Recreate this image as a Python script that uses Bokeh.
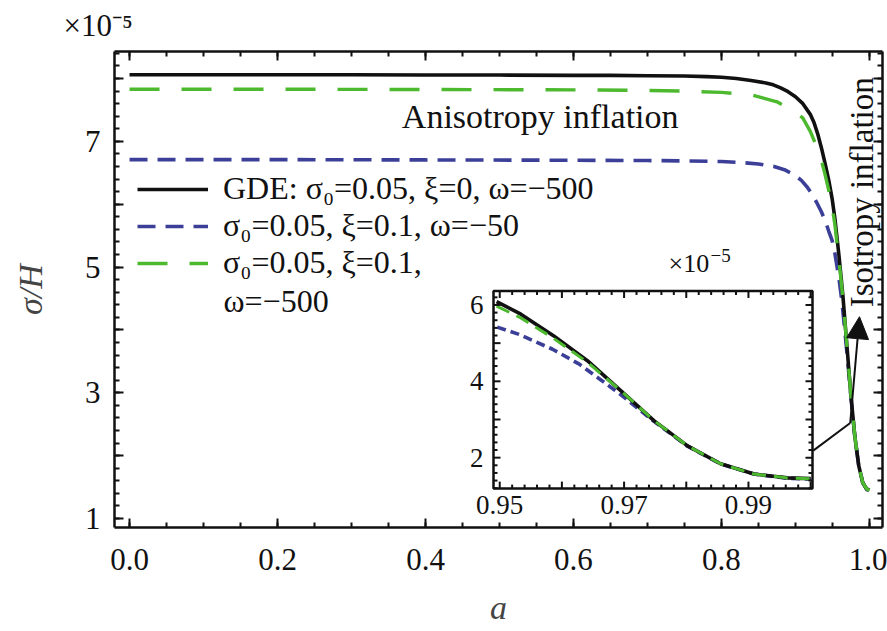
from bokeh.plotting import figure
from bokeh.models import (Range1d, LinearAxis, FixedTicker, PrintfTickFormatter,
                          Legend, LegendItem, Label, Arrow, NormalHead,
                          CustomLabelingPolicy, BoxAnnotation)
from bokeh.core.properties import value
from bokeh.embed import file_html
from bokeh.resources import INLINE

# sigma/H (in units of 1e-5) against scale factor a
a_gde = [0.0, 0.1, 0.2, 0.3, 0.4, 0.5, 0.6, 0.65, 0.7, 0.75, 0.78, 0.8, 0.82, 0.84,
         0.86, 0.87, 0.88, 0.89, 0.90, 0.91, 0.92, 0.925, 0.93, 0.935, 0.94, 0.945,
         0.9495, 0.9534, 0.9587, 0.9641, 0.9695, 0.9748, 0.9802, 0.9855, 0.9909,
         0.9963, 1.0]
s_gde = [8.06, 8.06, 8.06, 8.06, 8.055, 8.055, 8.05, 8.05, 8.045, 8.04, 8.03, 8.02,
         8.00, 7.97, 7.93, 7.90, 7.85, 7.79, 7.71, 7.60, 7.43, 7.30, 7.12, 6.90,
         6.65, 6.38, 6.09, 5.76, 5.19, 4.54, 3.75, 2.97, 2.31, 1.84, 1.57, 1.47, 1.45]

a_w50 = [0.0, 0.2, 0.4, 0.6, 0.7, 0.75, 0.8, 0.83, 0.85, 0.871, 0.885, 0.898, 0.908,
         0.916, 0.923, 0.929, 0.935, 0.941, 0.945, 0.9496, 0.9531, 0.9585, 0.9628,
         0.9665, 0.9697, 0.9748, 0.9802, 0.9855, 0.9909, 0.9963, 1.0]
s_w50 = [6.71, 6.71, 6.705, 6.70, 6.695, 6.69, 6.68, 6.66, 6.64, 6.60, 6.55, 6.47,
         6.38, 6.27, 6.15, 6.02, 5.88, 5.71, 5.57, 5.42, 5.23, 4.84, 4.45, 4.01,
         3.62, 2.95, 2.30, 1.84, 1.57, 1.46, 1.44]

a_w500 = [0.0, 0.2, 0.4, 0.6, 0.7, 0.75, 0.8, 0.84, 0.875, 0.9, 0.91, 0.92, 0.93,
          0.935, 0.94, 0.945, 0.9495, 0.9534, 0.9587, 0.9641, 0.9695, 0.9748, 0.9802,
          0.9855, 0.9909, 0.9963, 1.0]
s_w500 = [7.83, 7.83, 7.825, 7.82, 7.81, 7.80, 7.78, 7.74, 7.63, 7.47, 7.37, 7.16,
          6.88, 6.70, 6.47, 6.22, 5.97, 5.66, 5.12, 4.50, 3.75, 2.97, 2.31, 1.84,
          1.57, 1.47, 1.45]

# main tick layout
x_major = [0.0, 0.2, 0.4, 0.6, 0.8, 1.0]
x_minor = [round(0.05 * i, 2) for i in range(0, 21)]
y_major = [1, 2, 3, 4, 5, 6, 7, 8]
y_minor = [round(1 + 0.2 * i, 1) for i in range(0, 38)]

# inset tick layout
ix_major = [0.95, 0.96, 0.97, 0.98, 0.99, 1.0]
ix_minor = [round(0.95 + 0.002 * i, 3) for i in range(0, 26)]
ix_labels = ["0.95", "0.97", "0.99"]
iy_major = [2, 3, 4, 5, 6]
iy_minor = [round(1.2 + 0.2 * i, 1) for i in range(0, 26)]
iy_labels = ["2", "4", "6"]

legend_labels = ["GDE: σ₀=0.05, ξ=0, ω=−500",
                 "σ₀=0.05, ξ=0.1, ω=−50",
                 "σ₀=0.05, ξ=0.1,"]
legend_tail = "ω=−500"

SERIF = "Liberation Serif"
BLACK = "#111111"
BLUE = "#3c3f98"
GREEN = "#4cb92f"

# main frame and inset box on the canvas (px), and the inset's own data window
MAIN_X = (-0.0203, 1.0176)
MAIN_Y = (0.857, 8.43)
FRAME = dict(left=114, right=882, top=50, bottom=527)
INSET_X = (0.949, 1.0003)
INSET_Y = (1.19, 6.366)
BOX = dict(left=493, right=812, top=290, bottom=488)

dx = (INSET_X[1] - INSET_X[0]) / (BOX["right"] - BOX["left"])
dy = (INSET_Y[1] - INSET_Y[0]) / (BOX["bottom"] - BOX["top"])
inset_x_range = Range1d(INSET_X[0] - (BOX["left"] - FRAME["left"]) * dx,
                        INSET_X[1] + (FRAME["right"] - BOX["right"]) * dx)
inset_y_range = Range1d(INSET_Y[0] - (FRAME["bottom"] - BOX["bottom"]) * dy,
                        INSET_Y[1] + (BOX["top"] - FRAME["top"]) * dy)

EVERY_OTHER = """
for (const i of Array.from(indices)) { if (i % 2 == 1) indices.unset(i) }
return indices
"""
NO_LABELS = """
for (const i of Array.from(indices)) { indices.unset(i) }
return indices
"""


def style_axis(ax, font_size):
    ax.axis_line_color = BLACK
    ax.axis_line_width = 2.5
    ax.major_tick_in = 9
    ax.major_tick_out = 0
    ax.minor_tick_in = 5
    ax.minor_tick_out = 0
    ax.major_tick_line_width = 2
    ax.minor_tick_line_width = 2
    ax.major_tick_line_color = BLACK
    ax.minor_tick_line_color = BLACK
    ax.major_label_text_font = SERIF
    ax.major_label_text_color = BLACK
    ax.major_label_text_font_size = font_size


def mirror_axis(ticker):
    ax = LinearAxis(ticker=ticker)
    style_axis(ax, "1px")
    ax.major_label_standoff = 0
    ax.major_label_policy = CustomLabelingPolicy(code=NO_LABELS)
    return ax


p = figure(width=887, height=631, output_backend="svg", toolbar_location=None,
           x_range=Range1d(*MAIN_X), y_range=Range1d(*MAIN_Y),
           min_border_left=FRAME["left"], min_border_right=887 - FRAME["right"],
           min_border_top=FRAME["top"], min_border_bottom=631 - FRAME["bottom"])
p.extra_x_ranges = {"ix": inset_x_range}
p.extra_y_ranges = {"iy": inset_y_range}
p.xgrid.visible = False
p.ygrid.visible = False
p.outline_line_color = None
p.background_fill_color = "white"
p.border_fill_color = "white"

p.title.text = "×10⁻⁵"
p.title.align = "left"
p.title.offset = -51
p.title.standoff = 10
p.title.text_font = SERIF
p.title.text_font_style = "normal"
p.title.text_font_size = "31px"
p.title.text_color = BLACK

xt = FixedTicker(ticks=x_major, minor_ticks=x_minor)
yt = FixedTicker(ticks=y_major, minor_ticks=y_minor)

xb = p.xaxis[0]
xb.ticker = xt
xb.formatter = PrintfTickFormatter(format="%.1f")
style_axis(xb, "31px")
xb.major_label_standoff = 21
xb.axis_label = "a"
xb.axis_label_text_font = SERIF
xb.axis_label_text_font_style = "italic"
xb.axis_label_text_font_size = "34px"
xb.axis_label_standoff = 16

yl = p.yaxis[0]
yl.ticker = yt
yl.formatter = PrintfTickFormatter(format="%d")
yl.major_label_policy = CustomLabelingPolicy(code=EVERY_OTHER)
style_axis(yl, "31px")
yl.major_label_standoff = 14
yl.axis_label = "σ/H"
yl.axis_label_text_font = SERIF
yl.axis_label_text_font_style = "italic"
yl.axis_label_text_font_size = "34px"
yl.axis_label_standoff = 33

p.add_layout(mirror_axis(xt), "above")
p.add_layout(mirror_axis(yt), "right")

# ---- main curves ----
r_w50 = p.line(a_w50, s_w50, line_color=BLUE, line_width=3.6, line_dash="18 10")
r_gde = p.line(a_gde, s_gde, line_color=BLACK, line_width=3.6)
r_w500 = p.line(a_w500, s_w500, line_color=GREEN, line_width=3.4, line_dash="30 22")

legend = Legend(items=[LegendItem(label=legend_labels[0], renderers=[r_gde]),
                       LegendItem(label=legend_labels[1], renderers=[r_w50]),
                       LegendItem(label=legend_labels[2], renderers=[r_w500])],
                location=(23, 246), padding=0, margin=0, spacing=0,
                glyph_width=71, glyph_height=30, label_height=30, label_standoff=15,
                label_text_font=SERIF, label_text_font_size="32px",
                label_text_color=BLACK,
                background_fill_alpha=0, border_line_alpha=0)
p.add_layout(legend)

p.add_layout(Label(x=0.127, y=4.46, text=legend_tail, text_font=SERIF,
                   text_font_size="32px", text_baseline="middle", text_color=BLACK))

p.add_layout(Label(x=0.555, y=7.40, text="Anisotropy inflation", text_font=SERIF,
                   text_font_size="34px", text_align="center", text_baseline="middle",
                   text_color=BLACK))
p.add_layout(Label(x=0.9895, y=6.19, text="Isotropy inflation", text_font=SERIF,
                   text_font_size="33px", text_align="center", text_baseline="middle",
                   angle=1.5708, text_color=BLACK))

# pointer from the inset to the steep part of the curves
p.add_layout(Arrow(end=None, x_start=0.924, y_start=2.08, x_end=0.974, y_end=2.52,
                   line_color=BLACK, line_width=2))
p.add_layout(Arrow(end=NormalHead(size=22, fill_color=BLACK, line_color=BLACK),
                   x_start=0.974, y_start=2.52, x_end=0.9865, y_end=4.21,
                   line_color=BLACK, line_width=2))

# ---- inset: zoom on the final drop ----
IX = dict(x_range_name="ix", y_range_name="iy")
p.add_layout(BoxAnnotation(left=INSET_X[0], right=INSET_X[1],
                           bottom=INSET_Y[0], top=INSET_Y[1],
                           fill_color="white", fill_alpha=1.0,
                           line_color=BLACK, line_width=2.5, line_alpha=1.0,
                           level="underlay", **IX))


def zoomed(xs, ys):
    keep = [i for i, x in enumerate(xs) if INSET_X[0] <= x <= INSET_X[1]]
    return [xs[i] for i in keep], [ys[i] for i in keep]


zx, zy = zoomed(a_w50, s_w50)
p.line(zx, zy, line_color=BLUE, line_width=3.6, line_dash="9 5", **IX)
zx, zy = zoomed(a_gde, s_gde)
p.line(zx, zy, line_color=BLACK, line_width=3.6, **IX)
zx, zy = zoomed(a_w500, s_w500)
p.line(zx, zy, line_color=GREEN, line_width=3.0, line_dash="14 8", **IX)

# inset frame ticks (inward, on all four sides)
MAJ_PX, MIN_PX = 7, 4
tx = [t for t in ix_minor if INSET_X[0] <= t <= INSET_X[1]]
tlen_x = [(MAJ_PX if any(abs(t - m) < 1e-9 for m in ix_major) else MIN_PX) * dy
          for t in tx]
ty = [t for t in iy_minor if INSET_Y[0] <= t <= INSET_Y[1]]
tlen_y = [(MAJ_PX if any(abs(t - m) < 1e-9 for m in iy_major) else MIN_PX) * dx
          for t in ty]
p.segment(x0=tx, x1=tx, y0=[INSET_Y[0]] * len(tx),
          y1=[INSET_Y[0] + L for L in tlen_x], line_color=BLACK, line_width=2, **IX)
p.segment(x0=tx, x1=tx, y0=[INSET_Y[1]] * len(tx),
          y1=[INSET_Y[1] - L for L in tlen_x], line_color=BLACK, line_width=2, **IX)
p.segment(x0=[INSET_X[0]] * len(ty), x1=[INSET_X[0] + L for L in tlen_y],
          y0=ty, y1=ty, line_color=BLACK, line_width=2, **IX)
p.segment(x0=[INSET_X[1]] * len(ty), x1=[INSET_X[1] - L for L in tlen_y],
          y0=ty, y1=ty, line_color=BLACK, line_width=2, **IX)

p.text(x=[float(t) for t in ix_labels], y=[INSET_Y[0]] * len(ix_labels),
       text=ix_labels, text_font=value(SERIF), text_font_size="27px",
       text_align="center", text_baseline="top", y_offset=7, text_color=BLACK, **IX)
p.text(x=[INSET_X[0]] * len(iy_labels), y=[float(t) for t in iy_labels],
       text=iy_labels, text_font=value(SERIF), text_font_size="27px",
       text_align="right", text_baseline="middle", x_offset=-10, text_color=BLACK,
       **IX)

p.add_layout(Label(x=INSET_X[0] + 175 * dx, y=INSET_Y[1] + 28 * dy, text="×10",
                   text_font=SERIF, text_font_size="26px", text_baseline="middle",
                   text_color=BLACK, **IX))
p.add_layout(Label(x=INSET_X[0] + 217 * dx, y=INSET_Y[1] + 36 * dy, text="−5",
                   text_font=SERIF, text_font_size="19px", text_baseline="middle",
                   text_color=BLACK, **IX))

open("out.html", "w").write(file_html(p, INLINE))
